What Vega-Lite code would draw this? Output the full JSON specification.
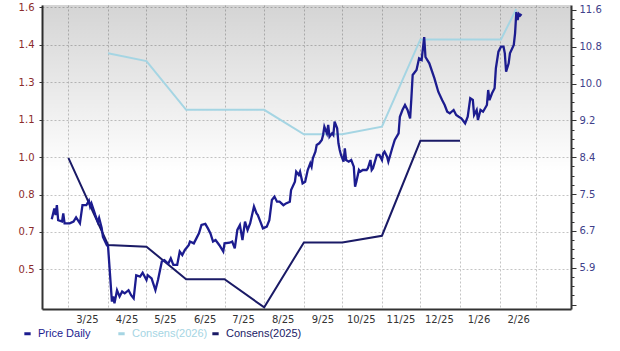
{
 "$schema": "https://vega.github.io/schema/vega-lite/v6.json",
 "width": 529, "height": 304,
 "autosize": {"type": "none"},
 "padding": {"left": 42, "top": 5, "right": 49, "bottom": 42},
 "background": "#ffffff",
 "config": {
  "view": {"stroke": null},
  "font": "DejaVu Sans"
 },
 "datasets": {
  "main": [
  {"date": "2025-03-01", "series": "Consens(2025)", "value": 0.968},
  {"date": "2025-04-01", "series": "Consens(2025)", "value": 0.602},
  {"date": "2025-05-01", "series": "Consens(2025)", "value": 0.595},
  {"date": "2025-06-01", "series": "Consens(2025)", "value": 0.458},
  {"date": "2025-07-01", "series": "Consens(2025)", "value": 0.458},
  {"date": "2025-08-01", "series": "Consens(2025)", "value": 0.340},
  {"date": "2025-09-01", "series": "Consens(2025)", "value": 0.613},
  {"date": "2025-10-01", "series": "Consens(2025)", "value": 0.613},
  {"date": "2025-11-01", "series": "Consens(2025)", "value": 0.641},
  {"date": "2025-12-01", "series": "Consens(2025)", "value": 1.040},
  {"date": "2026-01-01", "series": "Consens(2025)", "value": 1.040},
  {"date": "2025-04-01", "series": "Consens(2026)", "value": 1.408},
  {"date": "2025-05-01", "series": "Consens(2026)", "value": 1.375},
  {"date": "2025-06-01", "series": "Consens(2026)", "value": 1.170},
  {"date": "2025-07-01", "series": "Consens(2026)", "value": 1.170},
  {"date": "2025-08-01", "series": "Consens(2026)", "value": 1.170},
  {"date": "2025-09-01", "series": "Consens(2026)", "value": 1.067},
  {"date": "2025-10-01", "series": "Consens(2026)", "value": 1.067},
  {"date": "2025-11-01", "series": "Consens(2026)", "value": 1.099},
  {"date": "2025-12-01", "series": "Consens(2026)", "value": 1.466},
  {"date": "2026-01-01", "series": "Consens(2026)", "value": 1.466},
  {"date": "2026-02-02", "series": "Consens(2026)", "value": 1.466},
  {"date": "2026-02-14", "series": "Consens(2026)", "value": 1.594},
  {"date": "2025-02-16", "series": "Price Daily", "value": 6.99},
  {"date": "2025-02-18", "series": "Price Daily", "value": 7.23},
  {"date": "2025-02-19", "series": "Price Daily", "value": 7.085},
  {"date": "2025-02-20", "series": "Price Daily", "value": 7.30},
  {"date": "2025-02-21", "series": "Price Daily", "value": 6.97},
  {"date": "2025-02-24", "series": "Price Daily", "value": 6.94},
  {"date": "2025-02-25", "series": "Price Daily", "value": 7.12},
  {"date": "2025-02-26", "series": "Price Daily", "value": 6.90},
  {"date": "2025-03-02", "series": "Price Daily", "value": 6.90},
  {"date": "2025-03-05", "series": "Price Daily", "value": 6.94},
  {"date": "2025-03-07", "series": "Price Daily", "value": 7.03},
  {"date": "2025-03-10", "series": "Price Daily", "value": 6.90},
  {"date": "2025-03-12", "series": "Price Daily", "value": 7.30},
  {"date": "2025-03-15", "series": "Price Daily", "value": 7.30},
  {"date": "2025-03-17", "series": "Price Daily", "value": 7.40},
  {"date": "2025-03-18", "series": "Price Daily", "value": 7.27},
  {"date": "2025-03-19", "series": "Price Daily", "value": 7.34},
  {"date": "2025-03-22", "series": "Price Daily", "value": 7.085},
  {"date": "2025-03-24", "series": "Price Daily", "value": 6.93},
  {"date": "2025-03-25", "series": "Price Daily", "value": 7.02},
  {"date": "2025-03-27", "series": "Price Daily", "value": 6.80},
  {"date": "2025-03-28", "series": "Price Daily", "value": 6.60},
  {"date": "2025-03-31", "series": "Price Daily", "value": 6.42},
  {"date": "2025-04-01", "series": "Price Daily", "value": 6.39},
  {"date": "2025-04-04", "series": "Price Daily", "value": 5.18},
  {"date": "2025-04-05", "series": "Price Daily", "value": 5.29},
  {"date": "2025-04-06", "series": "Price Daily", "value": 5.14},
  {"date": "2025-04-08", "series": "Price Daily", "value": 5.43},
  {"date": "2025-04-10", "series": "Price Daily", "value": 5.29},
  {"date": "2025-04-12", "series": "Price Daily", "value": 5.40},
  {"date": "2025-04-14", "series": "Price Daily", "value": 5.36},
  {"date": "2025-04-17", "series": "Price Daily", "value": 5.43},
  {"date": "2025-04-19", "series": "Price Daily", "value": 5.32},
  {"date": "2025-04-21", "series": "Price Daily", "value": 5.25},
  {"date": "2025-04-23", "series": "Price Daily", "value": 5.76},
  {"date": "2025-04-26", "series": "Price Daily", "value": 5.73},
  {"date": "2025-04-28", "series": "Price Daily", "value": 5.815},
  {"date": "2025-05-01", "series": "Price Daily", "value": 5.655},
  {"date": "2025-05-02", "series": "Price Daily", "value": 5.76},
  {"date": "2025-05-05", "series": "Price Daily", "value": 5.69},
  {"date": "2025-05-08", "series": "Price Daily", "value": 5.43},
  {"date": "2025-05-10", "series": "Price Daily", "value": 5.655},
  {"date": "2025-05-13", "series": "Price Daily", "value": 6.06},
  {"date": "2025-05-15", "series": "Price Daily", "value": 6.09},
  {"date": "2025-05-18", "series": "Price Daily", "value": 6.01},
  {"date": "2025-05-20", "series": "Price Daily", "value": 6.13},
  {"date": "2025-05-22", "series": "Price Daily", "value": 5.985},
  {"date": "2025-05-25", "series": "Price Daily", "value": 5.985},
  {"date": "2025-05-27", "series": "Price Daily", "value": 6.28},
  {"date": "2025-05-29", "series": "Price Daily", "value": 6.205},
  {"date": "2025-05-31", "series": "Price Daily", "value": 6.315},
  {"date": "2025-06-03", "series": "Price Daily", "value": 6.42},
  {"date": "2025-06-04", "series": "Price Daily", "value": 6.50},
  {"date": "2025-06-07", "series": "Price Daily", "value": 6.46},
  {"date": "2025-06-09", "series": "Price Daily", "value": 6.57},
  {"date": "2025-06-11", "series": "Price Daily", "value": 6.68},
  {"date": "2025-06-13", "series": "Price Daily", "value": 6.865},
  {"date": "2025-06-16", "series": "Price Daily", "value": 6.89},
  {"date": "2025-06-18", "series": "Price Daily", "value": 6.79},
  {"date": "2025-06-20", "series": "Price Daily", "value": 6.68},
  {"date": "2025-06-22", "series": "Price Daily", "value": 6.50},
  {"date": "2025-06-24", "series": "Price Daily", "value": 6.535},
  {"date": "2025-06-27", "series": "Price Daily", "value": 6.42},
  {"date": "2025-06-30", "series": "Price Daily", "value": 6.28},
  {"date": "2025-07-01", "series": "Price Daily", "value": 6.46},
  {"date": "2025-07-05", "series": "Price Daily", "value": 6.475},
  {"date": "2025-07-07", "series": "Price Daily", "value": 6.50},
  {"date": "2025-07-09", "series": "Price Daily", "value": 6.35},
  {"date": "2025-07-11", "series": "Price Daily", "value": 6.755},
  {"date": "2025-07-13", "series": "Price Daily", "value": 6.865},
  {"date": "2025-07-15", "series": "Price Daily", "value": 6.535},
  {"date": "2025-07-17", "series": "Price Daily", "value": 6.94},
  {"date": "2025-07-19", "series": "Price Daily", "value": 6.755},
  {"date": "2025-07-21", "series": "Price Daily", "value": 6.90},
  {"date": "2025-07-24", "series": "Price Daily", "value": 7.27},
  {"date": "2025-07-26", "series": "Price Daily", "value": 7.12},
  {"date": "2025-07-27", "series": "Price Daily", "value": 7.085},
  {"date": "2025-07-29", "series": "Price Daily", "value": 6.94},
  {"date": "2025-07-31", "series": "Price Daily", "value": 6.79},
  {"date": "2025-08-03", "series": "Price Daily", "value": 6.83},
  {"date": "2025-08-05", "series": "Price Daily", "value": 6.97},
  {"date": "2025-08-07", "series": "Price Daily", "value": 7.415},
  {"date": "2025-08-09", "series": "Price Daily", "value": 7.49},
  {"date": "2025-08-11", "series": "Price Daily", "value": 7.377},
  {"date": "2025-08-13", "series": "Price Daily", "value": 7.377},
  {"date": "2025-08-16", "series": "Price Daily", "value": 7.30},
  {"date": "2025-08-18", "series": "Price Daily", "value": 7.34},
  {"date": "2025-08-21", "series": "Price Daily", "value": 7.377},
  {"date": "2025-08-22", "series": "Price Daily", "value": 7.635},
  {"date": "2025-08-25", "series": "Price Daily", "value": 7.817},
  {"date": "2025-08-26", "series": "Price Daily", "value": 8.037},
  {"date": "2025-08-28", "series": "Price Daily", "value": 7.965},
  {"date": "2025-08-29", "series": "Price Daily", "value": 8.037},
  {"date": "2025-08-31", "series": "Price Daily", "value": 7.782},
  {"date": "2025-09-02", "series": "Price Daily", "value": 7.817},
  {"date": "2025-09-04", "series": "Price Daily", "value": 8.075},
  {"date": "2025-09-06", "series": "Price Daily", "value": 8.222},
  {"date": "2025-09-07", "series": "Price Daily", "value": 8.147},
  {"date": "2025-09-08", "series": "Price Daily", "value": 8.332},
  {"date": "2025-09-10", "series": "Price Daily", "value": 8.477},
  {"date": "2025-09-11", "series": "Price Daily", "value": 8.625},
  {"date": "2025-09-13", "series": "Price Daily", "value": 8.662},
  {"date": "2025-09-15", "series": "Price Daily", "value": 8.735},
  {"date": "2025-09-16", "series": "Price Daily", "value": 8.845},
  {"date": "2025-09-17", "series": "Price Daily", "value": 9.027},
  {"date": "2025-09-19", "series": "Price Daily", "value": 8.882},
  {"date": "2025-09-20", "series": "Price Daily", "value": 9.065},
  {"date": "2025-09-21", "series": "Price Daily", "value": 8.807},
  {"date": "2025-09-23", "series": "Price Daily", "value": 8.882},
  {"date": "2025-09-24", "series": "Price Daily", "value": 8.845},
  {"date": "2025-09-25", "series": "Price Daily", "value": 9.137},
  {"date": "2025-09-27", "series": "Price Daily", "value": 8.992},
  {"date": "2025-09-28", "series": "Price Daily", "value": 8.662},
  {"date": "2025-09-29", "series": "Price Daily", "value": 8.515},
  {"date": "2025-09-30", "series": "Price Daily", "value": 8.405},
  {"date": "2025-10-02", "series": "Price Daily", "value": 8.257},
  {"date": "2025-10-03", "series": "Price Daily", "value": 8.552},
  {"date": "2025-10-04", "series": "Price Daily", "value": 8.295},
  {"date": "2025-10-06", "series": "Price Daily", "value": 8.257},
  {"date": "2025-10-08", "series": "Price Daily", "value": 8.295},
  {"date": "2025-10-10", "series": "Price Daily", "value": 8.147},
  {"date": "2025-10-11", "series": "Price Daily", "value": 7.707},
  {"date": "2025-10-12", "series": "Price Daily", "value": 7.817},
  {"date": "2025-10-14", "series": "Price Daily", "value": 8.075},
  {"date": "2025-10-15", "series": "Price Daily", "value": 8.037},
  {"date": "2025-10-17", "series": "Price Daily", "value": 8.075},
  {"date": "2025-10-20", "series": "Price Daily", "value": 8.075},
  {"date": "2025-10-21", "series": "Price Daily", "value": 8.112},
  {"date": "2025-10-23", "series": "Price Daily", "value": 8.295},
  {"date": "2025-10-24", "series": "Price Daily", "value": 8.075},
  {"date": "2025-10-25", "series": "Price Daily", "value": 8.112},
  {"date": "2025-10-28", "series": "Price Daily", "value": 8.405},
  {"date": "2025-10-30", "series": "Price Daily", "value": 8.405},
  {"date": "2025-11-01", "series": "Price Daily", "value": 8.295},
  {"date": "2025-11-02", "series": "Price Daily", "value": 8.442},
  {"date": "2025-11-03", "series": "Price Daily", "value": 8.477},
  {"date": "2025-11-05", "series": "Price Daily", "value": 8.367},
  {"date": "2025-11-06", "series": "Price Daily", "value": 8.257},
  {"date": "2025-11-09", "series": "Price Daily", "value": 8.552},
  {"date": "2025-11-11", "series": "Price Daily", "value": 8.735},
  {"date": "2025-11-14", "series": "Price Daily", "value": 8.882},
  {"date": "2025-11-15", "series": "Price Daily", "value": 9.247},
  {"date": "2025-11-17", "series": "Price Daily", "value": 9.395},
  {"date": "2025-11-19", "series": "Price Daily", "value": 9.505},
  {"date": "2025-11-21", "series": "Price Daily", "value": 9.395},
  {"date": "2025-11-23", "series": "Price Daily", "value": 9.212},
  {"date": "2025-11-24", "series": "Price Daily", "value": 9.659},
  {"date": "2025-11-25", "series": "Price Daily", "value": 10.165},
  {"date": "2025-11-28", "series": "Price Daily", "value": 10.275},
  {"date": "2025-11-30", "series": "Price Daily", "value": 10.532},
  {"date": "2025-12-02", "series": "Price Daily", "value": 10.495},
  {"date": "2025-12-04", "series": "Price Daily", "value": 11.0},
  {"date": "2025-12-05", "series": "Price Daily", "value": 10.561},
  {"date": "2025-12-08", "series": "Price Daily", "value": 10.422},
  {"date": "2025-12-12", "series": "Price Daily", "value": 10.092},
  {"date": "2025-12-15", "series": "Price Daily", "value": 9.797},
  {"date": "2025-12-18", "series": "Price Daily", "value": 9.615},
  {"date": "2025-12-20", "series": "Price Daily", "value": 9.505},
  {"date": "2025-12-22", "series": "Price Daily", "value": 9.357},
  {"date": "2025-12-24", "series": "Price Daily", "value": 9.322},
  {"date": "2025-12-27", "series": "Price Daily", "value": 9.395},
  {"date": "2025-12-29", "series": "Price Daily", "value": 9.285},
  {"date": "2025-12-31", "series": "Price Daily", "value": 9.247},
  {"date": "2026-01-02", "series": "Price Daily", "value": 9.212},
  {"date": "2026-01-05", "series": "Price Daily", "value": 9.102},
  {"date": "2026-01-07", "series": "Price Daily", "value": 9.247},
  {"date": "2026-01-09", "series": "Price Daily", "value": 9.652},
  {"date": "2026-01-11", "series": "Price Daily", "value": 9.615},
  {"date": "2026-01-12", "series": "Price Daily", "value": 9.285},
  {"date": "2026-01-14", "series": "Price Daily", "value": 9.395},
  {"date": "2026-01-15", "series": "Price Daily", "value": 9.175},
  {"date": "2026-01-17", "series": "Price Daily", "value": 9.395},
  {"date": "2026-01-19", "series": "Price Daily", "value": 9.357},
  {"date": "2026-01-22", "series": "Price Daily", "value": 9.505},
  {"date": "2026-01-23", "series": "Price Daily", "value": 9.835},
  {"date": "2026-01-24", "series": "Price Daily", "value": 9.615},
  {"date": "2026-01-26", "series": "Price Daily", "value": 9.762},
  {"date": "2026-01-28", "series": "Price Daily", "value": 9.872},
  {"date": "2026-01-29", "series": "Price Daily", "value": 10.312},
  {"date": "2026-01-31", "series": "Price Daily", "value": 10.677},
  {"date": "2026-02-02", "series": "Price Daily", "value": 10.787},
  {"date": "2026-02-04", "series": "Price Daily", "value": 10.787},
  {"date": "2026-02-05", "series": "Price Daily", "value": 10.642},
  {"date": "2026-02-06", "series": "Price Daily", "value": 10.237},
  {"date": "2026-02-08", "series": "Price Daily", "value": 10.422},
  {"date": "2026-02-09", "series": "Price Daily", "value": 10.642},
  {"date": "2026-02-12", "series": "Price Daily", "value": 10.825},
  {"date": "2026-02-13", "series": "Price Daily", "value": 11.082},
  {"date": "2026-02-14", "series": "Price Daily", "value": 11.551},
  {"date": "2026-02-15", "series": "Price Daily", "value": 11.375},
  {"date": "2026-02-16", "series": "Price Daily", "value": 11.507},
  {"date": "2026-02-17", "series": "Price Daily", "value": 11.474},
  {"date": "2026-02-18", "series": "Price Daily", "value": 11.507}
  ]
 },
 "layer": [
  {
   "data": {"values": [{}]},
   "mark": {"type": "rect", "fill": {"gradient": "linear", "x1": 0, "y1": 0, "x2": 0, "y2": 1, "stops": [{"offset": 0, "color": "rgba(0,0,0,0.17)"}, {"offset": 0.55, "color": "rgba(0,0,0,0)"}]}},
   "encoding": {}
  },
  {
   "data": {"name": "main"},
   "transform": [{"filter": "datum.series !== 'Price Daily'"}],
   "mark": {"type": "line", "strokeWidth": 2},
   "encoding": {
    "x": {
     "field": "date", "type": "temporal",
     "scale": {"type": "utc", "domain": [{"year": 2025, "month": 2, "date": 8, "hours": 9, "utc": true}, {"year": 2026, "month": 3, "date": 28, "hours": 17, "utc": true}]},
     "axis": {
      "title": null,
      "values": [
       {"year": 2025, "month": 3, "date": 1, "utc": true},
       {"year": 2025, "month": 4, "date": 1, "utc": true},
       {"year": 2025, "month": 5, "date": 1, "utc": true},
       {"year": 2025, "month": 6, "date": 1, "utc": true},
       {"year": 2025, "month": 7, "date": 1, "utc": true},
       {"year": 2025, "month": 8, "date": 1, "utc": true},
       {"year": 2025, "month": 9, "date": 1, "utc": true},
       {"year": 2025, "month": 10, "date": 1, "utc": true},
       {"year": 2025, "month": 11, "date": 1, "utc": true},
       {"year": 2025, "month": 12, "date": 1, "utc": true},
       {"year": 2026, "month": 1, "date": 1, "utc": true},
       {"year": 2026, "month": 2, "date": 1, "utc": true},
       {"year": 2026, "month": 3, "date": 1, "utc": true}
      ],
      "labelExpr": "datum.value >= 1772000000000 ? '' : utcFormat(datum.value, '%-m/%y')",
      "grid": true, "gridColor": "#c4c4c4", "gridDash": [2, 2], "gridWidth": 1,
      "ticks": false, "domainColor": "#333333", "domainWidth": 2,
      "labelOffset": 18.5, "labelPadding": 5, "labelColor": "#333333",
      "labelFont": "DejaVu Sans", "labelFontSize": 10,
      "labelFlush": false, "labelOverlap": false, "labelBound": false
     }
    },
    "y": {
     "field": "value", "type": "quantitative",
     "scale": {"domain": [0.3332, 1.6105], "nice": false, "zero": false},
     "axis": {
      "orient": "left", "title": null,
      "values": [0.5, 0.657143, 0.814286, 0.971429, 1.128571, 1.285714, 1.442857, 1.6],
      "format": ".1f", "grid": true, "gridColor": "#c4c4c4", "gridDash": [2, 2],
      "domainColor": "#333333", "domainWidth": 2, "tickColor": "#333333", "tickSize": 3,
      "labelColor": "#8b2b2b", "labelFont": "DejaVu Sans", "labelFontSize": 10, "labelPadding": 5,
      "labelOverlap": false, "labelFlush": false
     }
    },
    "color": {
     "field": "series", "type": "nominal",
     "scale": {"domain": ["Price Daily", "Consens(2026)", "Consens(2025)"], "range": ["#1c1c8f", "#a5d5e3", "#1a1a66"]},
     "legend": {
      "title": null, "orient": "none", "legendX": -20, "legendY": 323,
      "direction": "horizontal", "columns": 3, "gridAlign": "all", "columnPadding": -2,
      "symbolType": "stroke", "symbolSize": 40, "symbolStrokeWidth": 3,
      "labelFont": "Liberation Sans", "labelFontSize": 11, "labelOffset": 5, "padding": 0, "labelLimit": 200,
      "encode": {"labels": {"update": {"fill": {"scale": "color", "field": "value"}}}}
     }
    }
   }
  },
  {
   "data": {"name": "main"},
   "transform": [{"filter": "datum.series === 'Price Daily'"}],
   "mark": {"type": "line", "strokeWidth": 2.3},
   "encoding": {
    "x": {"field": "date", "type": "temporal"},
    "y": {
     "field": "value", "type": "quantitative",
     "scale": {"domain": [5.0163, 11.705], "nice": false, "zero": false},
     "axis": {
      "orient": "right", "title": null, "grid": false,
      "values": [5.115, 5.3175, 5.52, 5.7225, 5.925, 6.1275, 6.33, 6.5325, 6.735, 6.9375, 7.14, 7.3425, 7.545, 7.7475, 7.95, 8.1525, 8.355, 8.5575, 8.76, 8.9625, 9.165, 9.3675, 9.57, 9.7725, 9.975, 10.1775, 10.38, 10.5825, 10.785, 10.9875, 11.19, 11.3925, 11.595],
      "labelExpr": "(abs((datum.value - 5.925) / 0.81 - round((datum.value - 5.925) / 0.81)) < 0.05 && datum.value > 5.5) ? format(datum.value, '.1f') : ''",
      "tickSize": {"condition": {"test": "abs((datum.value - 5.925) / 0.81 - round((datum.value - 5.925) / 0.81)) < 0.05", "value": 5}, "value": 3},
      "domainColor": "#333333", "domainWidth": 2, "tickColor": "#333333",
      "labelColor": "#40408a", "labelFont": "DejaVu Sans", "labelFontSize": 10, "labelPadding": 3,
      "labelOverlap": false, "labelFlush": false
     }
    },
    "color": {"field": "series", "type": "nominal"}
   }
  }
 ],
 "resolve": {"scale": {"y": "independent"}}
}
